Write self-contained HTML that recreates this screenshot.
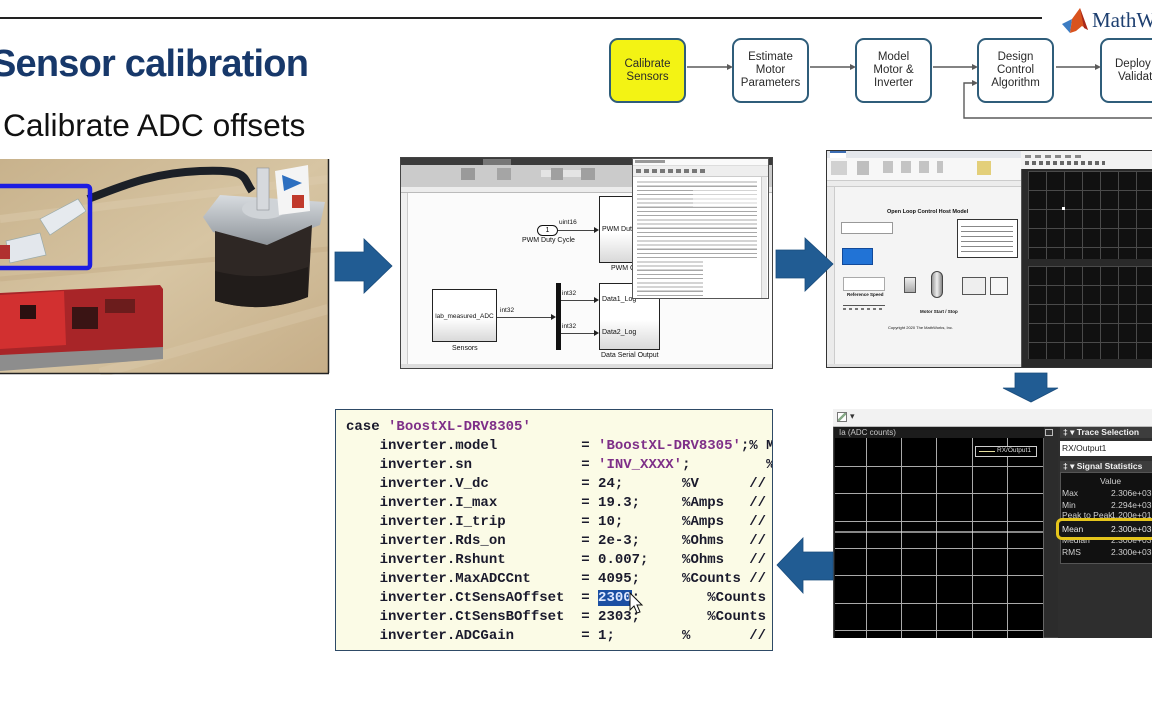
<!DOCTYPE html>
<html><head><meta charset="utf-8">
<style>
*{margin:0;padding:0;box-sizing:border-box}
body{width:1152px;height:720px;overflow:hidden;background:#fff;position:relative;font-family:"Liberation Sans",Arial,sans-serif}
.a{position:absolute}
.box{position:absolute;top:38px;width:77px;height:65px;border:2px solid #2f5d7a;border-radius:9px;background:#fff;display:flex;align-items:center;justify-content:center;text-align:center;font-size:11.5px;line-height:13px;color:#2a2a2a}
.t{position:absolute;white-space:nowrap;color:#111}
.s8{font-size:7px}
.blk{position:absolute;border:1px solid #222;background:linear-gradient(#fff 55%,#d9d9d9)}
.ln{position:absolute;height:1px;background:#444}
.hd{position:absolute;width:0;height:0;border-top:3px solid transparent;border-bottom:3px solid transparent;border-left:5px solid #222}
.sr{position:absolute;left:1062px;font-size:8.5px;color:#cfcfcf;white-space:nowrap}
.sv{position:absolute;left:1111px;font-size:8.5px;color:#cfcfcf;white-space:nowrap}
</style></head><body>

<!-- header -->
<div class="a" style="left:0;top:17px;width:1042px;height:1.5px;background:#222"></div>
<div class="t" style="left:-9px;top:45px;font-size:38px;line-height:38px;font-weight:bold;color:#17386a;letter-spacing:-0.8px">Sensor calibration</div>
<div class="t" style="left:3px;top:109px;font-size:31.7px;line-height:32px;color:#111">Calibrate ADC offsets</div>

<svg class="a" style="left:1058px;top:4px" width="34" height="34" viewBox="0 0 34 34">
<polygon points="4,20 14,15 12,29" fill="#3c7cc2"/>
<polygon points="12,29 14,15 22,4 30,26 24,22 18,27" fill="#d9531e"/>
<polygon points="22,4 30,26 26,24" fill="#a8281a"/>
</svg>
<div class="t" style="left:1092px;top:8px;font-family:'Liberation Serif',serif;font-size:21px;line-height:24px;color:#1d3f70">MathWorks</div>

<!-- flow boxes -->
<div class="box" style="left:609px;background:#f3f314">Calibrate<br>Sensors</div>
<div class="box" style="left:732px">Estimate<br>Motor<br>Parameters</div>
<div class="box" style="left:855px">Model<br>Motor &amp;<br>Inverter</div>
<div class="box" style="left:977px">Design<br>Control<br>Algorithm</div>
<div class="box" style="left:1100px;width:80px;justify-content:flex-start;padding-left:13px;text-align:center">Deploy &amp;<br>Validate</div>

<!-- photo -->
<svg class="a" style="left:0;top:159px" width="330" height="216" viewBox="0 0 330 216">
<defs>
<linearGradient id="wood" x1="0" y1="0" x2="1" y2="1">
<stop offset="0" stop-color="#c8b28c"/><stop offset="0.5" stop-color="#d7c5a3"/><stop offset="1" stop-color="#c6ae88"/>
</linearGradient>
<linearGradient id="fl" x1="0" y1="0" x2="0" y2="1">
<stop offset="0" stop-color="#d8dce0"/><stop offset="1" stop-color="#8f959b"/>
</linearGradient>
</defs>
<rect x="0" y="0" width="328" height="214" fill="url(#wood)"/>
<path d="M0 60 L328 20" stroke="#dccbad" stroke-width="8" opacity=".5"/>
<path d="M0 120 L328 90" stroke="#bfa57e" stroke-width="5" opacity=".35"/>
<path d="M100 214 L328 150" stroke="#dccbad" stroke-width="10" opacity=".4"/>
<path d="M88 40 C120 28,150 14,200 12 S242 18,252 32" stroke="#1c2027" stroke-width="8" fill="none"/>
<rect x="-4" y="27" width="94" height="82" rx="3" fill="none" stroke="#1c1ce2" stroke-width="4.5"/>
<polygon points="40,60 78,40 86,52 50,76" fill="#e6eaee" stroke="#9aa" stroke-width=".7"/>
<polygon points="6,82 40,74 46,96 10,104" fill="#e3e7ec" stroke="#9aa" stroke-width=".7"/>
<rect x="0" y="86" width="10" height="14" fill="#b03030"/>
<polygon points="203,58 220,36 325,43 320,66 267,86 213,73" fill="url(#fl)"/>
<path d="M215 72 L267 86 L312 66 L308 138 Q262 156 215 142 Z" fill="#2e2724"/>
<path d="M215 112 Q262 124 308 108 L308 138 Q262 156 215 142 Z" fill="#211c1a"/>
<ellipse cx="264" cy="50" rx="22" ry="10" fill="#cfd3d7"/>
<rect x="257" y="9" width="12" height="42" fill="#d6d9dd" stroke="#8a8f94" stroke-width=".6"/>
<polygon points="275,12 308,6 310,52 279,56" fill="#f4f4f4"/>
<polygon points="282,16 302,24 284,32" fill="#2d6fc0"/>
<rect x="292" y="36" width="12" height="13" fill="#c0392b"/>
<polygon points="0,134 160,126 163,130 163,196 0,206" fill="#a82528"/>
<polygon points="0,136 64,132 66,186 0,190" fill="#d23030"/>
<polygon points="0,196 163,188 163,200 0,212" fill="#8d8d8d"/>
<rect x="72" y="148" width="26" height="22" fill="#3a1414"/>
<rect x="105" y="140" width="30" height="14" fill="#6b1c1c"/>
<rect x="20" y="146" width="16" height="14" fill="#2a1010"/>
<line x1="328.5" y1="0" x2="328.5" y2="214" stroke="#222" stroke-width="1.5"/>
<line x1="0" y1="214.5" x2="329" y2="214.5" stroke="#222" stroke-width="1.5"/>
</svg>

<!-- simulink screenshot -->
<div class="a" style="left:400px;top:157px;width:373px;height:212px;border:1px solid #444;background:#fbfbfb;overflow:hidden">
 <div class="a" style="left:0;top:0;width:100%;height:7px;background:#3b3b3b"></div>
 <div class="a" style="left:82px;top:1px;width:28px;height:6px;background:#777"></div>
 <div class="a" style="left:0;top:7px;width:100%;height:22px;background:#cbcbcb"></div>
 <div class="a" style="left:60px;top:10px;width:14px;height:12px;background:#9a9a9a"></div>
 <div class="a" style="left:96px;top:10px;width:14px;height:12px;background:#a5a5a5"></div>
 <div class="a" style="left:140px;top:12px;width:40px;height:7px;background:#e4e4e4"></div>
 <div class="a" style="left:150px;top:10px;width:12px;height:12px;background:#a0a0a0"></div>
 <div class="a" style="left:180px;top:10px;width:14px;height:12px;background:#a0a0a0"></div>
 <div class="a" style="left:0;top:29px;width:100%;height:6px;background:#ececec;border-bottom:1px solid #bbb"></div>
 <div class="a" style="left:0;top:35px;width:7px;height:172px;background:#f0f0f0;border-right:1px solid #ccc"></div>
 <div class="a" style="left:0;bottom:0;width:100%;height:4px;background:#ddd"></div>
</div>
<div class="a" style="left:537px;top:225px;width:21px;height:11px;border:1px solid #111;border-radius:6px;background:#fff;font-size:7px;line-height:9px;text-align:center">1</div>
<div class="t" style="left:559px;top:219px;font-size:6.5px">uint16</div>
<div class="t s8" style="left:522px;top:237px">PWM Duty Cycle</div>
<div class="ln" style="left:558px;top:230px;width:38px"></div><div class="hd" style="left:594px;top:227px"></div>
<div class="blk" style="left:599px;top:196px;width:44px;height:67px"></div>
<div class="t s8" style="left:602px;top:226px">PWM Duty</div>
<div class="t s8" style="left:611px;top:265px">PWM Control</div>
<div class="blk" style="left:432px;top:289px;width:65px;height:53px"></div>
<div class="t" style="left:433px;top:313px;width:63px;text-align:center;font-size:6.5px">lab_measured_ADC</div>
<div class="t s8" style="left:452px;top:345px">Sensors</div>
<div class="t" style="left:500px;top:307px;font-size:6.5px">int32</div>
<div class="ln" style="left:497px;top:317px;width:56px"></div><div class="hd" style="left:551px;top:314px"></div>
<div class="a" style="left:556px;top:283px;width:5px;height:67px;background:#111"></div>
<div class="t" style="left:562px;top:290px;font-size:6.5px">int32</div>
<div class="t" style="left:562px;top:323px;font-size:6.5px">int32</div>
<div class="ln" style="left:561px;top:300px;width:35px"></div><div class="hd" style="left:594px;top:297px"></div>
<div class="ln" style="left:561px;top:333px;width:35px"></div><div class="hd" style="left:594px;top:330px"></div>
<div class="blk" style="left:599px;top:283px;width:61px;height:67px"></div>
<div class="t s8" style="left:602px;top:296px">Data1_Log</div>
<div class="t s8" style="left:602px;top:329px">Data2_Log</div>
<div class="t s8" style="left:601px;top:352px">Data Serial Output</div>
<!-- diagnostic viewer -->
<div class="a" style="left:632px;top:158px;width:137px;height:141px;border:1px solid #555;background:#fff;overflow:hidden">
 <div class="a" style="left:0;top:0;width:100%;height:7px;background:#fafafa;border-bottom:1px solid #ddd"></div>
 <div class="a" style="left:2px;top:1px;width:30px;height:3px;background:#999"></div>
 <div class="a" style="left:0;top:7px;width:100%;height:11px;background:#eee;border-bottom:1px solid #ccc"></div>
 <div class="a" style="left:3px;top:10px;width:70px;height:4px;background:repeating-linear-gradient(90deg,#777 0 5px,transparent 5px 8px)"></div>
 <div class="a" style="left:4px;top:21px;width:120px;height:116px;background:repeating-linear-gradient(#fff 0 1.5px,#a8a8a8 1.5px 2.6px,#fff 2.6px 4.2px)"></div>
 <div class="a" style="left:60px;top:30px;width:64px;height:18px;background:#fff;opacity:.5"></div>
 <div class="a" style="left:70px;top:100px;width:54px;height:37px;background:#fff"></div>
 <div class="a" style="right:1px;top:18px;width:6px;height:121px;background:#ececec;border-left:1px solid #ccc"></div>
</div>

<!-- host model screenshot -->
<div class="a" style="left:826px;top:150px;width:327px;height:218px;border:1px solid #333;background:#f4f4f4;overflow:hidden">
 <div class="a" style="left:0;top:0;width:194px;height:7px;background:#e3e6eb"></div>
 <div class="a" style="left:3px;top:0;width:16px;height:7px;background:#fff;border-top:2px solid #3d6eb4"></div>
 <div class="a" style="left:0;top:7px;width:194px;height:23px;background:#f7f7f7;border-bottom:1px solid #ccc"></div>
 <div class="a" style="left:4px;top:10px;width:16px;height:14px;background:#b8b8b8;opacity:.6"></div>
 <div class="a" style="left:30px;top:10px;width:12px;height:14px;background:#999;opacity:.6"></div>
 <div class="a" style="left:56px;top:10px;width:60px;height:12px;background:repeating-linear-gradient(90deg,#c4c4c4 0 10px,transparent 10px 18px)"></div>
 <div class="a" style="left:150px;top:10px;width:14px;height:14px;background:#e3cf7a"></div>
 <div class="a" style="left:0;top:30px;width:194px;height:6px;background:#ececec;border-bottom:1px solid #ccc"></div>
 <div class="a" style="left:0;top:36px;width:8px;height:177px;background:#ebebeb;border-right:1px solid #ccc"></div>
 <div class="a" style="left:0;top:213px;width:194px;height:5px;background:#e0e0e0"></div>
 <!-- scope right -->
 <div class="a" style="left:194px;top:0;width:133px;height:218px;background:#2a2a2a;border-left:1px solid #555"></div>
 <div class="a" style="left:194px;top:0;width:133px;height:18px;background:#f2f2f2"></div>
 <div class="a" style="left:198px;top:4px;width:60px;height:3px;background:repeating-linear-gradient(90deg,#888 0 6px,transparent 6px 10px)"></div>
 <div class="a" style="left:198px;top:10px;width:80px;height:4px;background:repeating-linear-gradient(90deg,#666 0 4px,transparent 4px 7px)"></div>
 <div class="a" style="left:201px;top:20px;width:126px;height:88px;background-color:#111;background-image:linear-gradient(90deg,#4a4a4a 1px,transparent 1px),linear-gradient(#4a4a4a 1px,transparent 1px);background-size:18px 19px"></div>
 <div class="a" style="left:201px;top:115px;width:126px;height:93px;background-color:#111;background-image:linear-gradient(90deg,#4a4a4a 1px,transparent 1px),linear-gradient(#4a4a4a 1px,transparent 1px);background-size:18px 19px"></div>
 <div class="a" style="left:235px;top:56px;width:3px;height:3px;background:#fff"></div>
</div>
<div class="t" style="left:887px;top:209px;font-size:5.5px;font-weight:bold">Open Loop Control Host Model</div>
<div class="a" style="left:841px;top:222px;width:52px;height:12px;border:1px solid #999;background:#fff"></div>
<div class="a" style="left:842px;top:248px;width:31px;height:17px;background:#2173d6;border:1px solid #124a9a"></div>
<div class="a" style="left:843px;top:277px;width:42px;height:14px;background:#fff;border:1px solid #aaa"></div>
<div class="t" style="left:847px;top:292px;font-size:4.5px;font-weight:bold">Reference Speed</div>
<div class="a" style="left:843px;top:305px;width:42px;height:1px;background:#555"></div>
<div class="a" style="left:843px;top:308px;width:42px;height:2px;background:repeating-linear-gradient(90deg,#777 0 3px,transparent 3px 6px)"></div>
<div class="a" style="left:904px;top:277px;width:12px;height:16px;border:1px solid #555;background:linear-gradient(#eee,#aaa)"></div>
<div class="a" style="left:931px;top:271px;width:12px;height:27px;border:1px solid #444;border-radius:6px;background:linear-gradient(90deg,#999,#eee,#888)"></div>
<div class="t" style="left:920px;top:309px;font-size:4.5px;font-weight:bold">Motor Start / Stop</div>
<div class="a" style="left:957px;top:219px;width:61px;height:39px;border:1.5px solid #333;background:#fff"></div>
<div class="a" style="left:961px;top:224px;width:52px;height:30px;background:repeating-linear-gradient(#fff 0 2px,#888 2px 3px,#fff 3px 5px)"></div>
<div class="a" style="left:962px;top:277px;width:24px;height:18px;border:1px solid #555;background:#eee"></div>
<div class="a" style="left:990px;top:277px;width:18px;height:18px;border:1px solid #555;background:#f6f6f6"></div>
<div class="t" style="left:888px;top:325px;font-size:4px">Copyright 2020 The MathWorks, Inc.</div>

<!-- code block -->
<div class="a" style="left:335px;top:409px;width:438px;height:242px;background:#fbfbe6;border:1px solid #2e4a66;overflow:hidden">
<pre style="position:absolute;left:10px;top:8px;font:bold 14px/19px 'Liberation Mono',monospace;color:#1a1a2c;white-space:pre">case <span style="color:#7e2f88">'BoostXL-DRV8305'</span>
    inverter.model          = <span style="color:#7e2f88">'BoostXL-DRV8305'</span>;% M
    inverter.sn             = <span style="color:#7e2f88">'INV_XXXX'</span>;         %
    inverter.V_dc           = 24;       %V      //
    inverter.I_max          = 19.3;     %Amps   //
    inverter.I_trip         = 10;       %Amps   //
    inverter.Rds_on         = 2e-3;     %Ohms   //
    inverter.Rshunt         = 0.007;    %Ohms   //
    inverter.MaxADCCnt      = 4095;     %Counts //
    inverter.CtSensAOffset  = <span style="background:#1b4fa3;color:#dfe8ff">2300</span>;        %Counts
    inverter.CtSensBOffset  = 2303;        %Counts
    inverter.ADCGain        = 1;        %       //</pre>
</div>

<!-- scope bottom -->
<div class="a" style="left:833px;top:409px;width:320px;height:229px;background:#2c2c2c;border:1px solid #444"></div>
<div class="a" style="left:833px;top:409px;width:320px;height:18px;background:#f2f2f2;border-bottom:1px solid #bbb"></div>
<div class="a" style="left:837px;top:412px;width:10px;height:10px;border:1px solid #777;background:linear-gradient(135deg,#fff 40%,#8a8 40% 60%,#fff 60%)"></div>
<div class="t" style="left:850px;top:411px;font-size:9px;color:#333">▾</div>
<div class="a" style="left:834px;top:427px;width:210px;height:211px;background:#1c1c1c"></div>
<div class="t" style="left:839px;top:428px;font-size:8px;color:#c8c8c8">Ia (ADC counts)</div>
<svg class="a" style="left:835px;top:438px" width="209" height="200" viewBox="0 0 209 200">
<rect x="0" y="0" width="209" height="200" fill="#000"/>
<g stroke="#a9a9a9" stroke-width="1">
<line x1="31.5" y1="0" x2="31.5" y2="200"/><line x1="66.5" y1="0" x2="66.5" y2="200"/><line x1="101.5" y1="0" x2="101.5" y2="200"/><line x1="137.5" y1="0" x2="137.5" y2="200"/><line x1="172.5" y1="0" x2="172.5" y2="200"/>
<line x1="0" y1="28.5" x2="209" y2="28.5"/><line x1="0" y1="55.5" x2="209" y2="55.5"/><line x1="0" y1="83.5" x2="209" y2="83.5"/><line x1="0" y1="110.5" x2="209" y2="110.5"/><line x1="0" y1="137.5" x2="209" y2="137.5"/><line x1="0" y1="165.5" x2="209" y2="165.5"/><line x1="0" y1="192.5" x2="209" y2="192.5"/>
</g>
<line x1="0" y1="94" x2="209" y2="94" stroke="#d8d8d8" stroke-width="1.3"/>
<line x1="208.5" y1="0" x2="208.5" y2="200" stroke="#666"/>
<rect x="140.5" y="8.5" width="61" height="10" fill="#000" stroke="#ccc"/>
<line x1="144" y1="13.5" x2="160" y2="13.5" stroke="#e8e0a0"/>
</svg>
<div class="t" style="left:997px;top:447px;font-size:6.5px;color:#ddd">RX/Output1</div>
<div class="a" style="left:1045px;top:429px;width:8px;height:7px;border:1px solid #bbb;background:#333"></div>
<div class="a" style="left:1058px;top:427px;width:95px;height:211px;background:#2e2e2e"></div>
<div class="a" style="left:1060px;top:427px;width:93px;height:11px;background:#3d3d3d"></div>
<div class="t" style="left:1063px;top:427px;font-size:8.5px;line-height:11px;font-weight:bold;color:#f2f2f2">‡ ▾ Trace Selection</div>
<div class="a" style="left:1060px;top:441px;width:93px;height:15px;background:#fff"></div>
<div class="t" style="left:1062px;top:443px;font-size:8.5px;color:#222">RX/Output1</div>
<div class="a" style="left:1060px;top:461px;width:93px;height:11px;background:#3d3d3d"></div>
<div class="t" style="left:1063px;top:461px;font-size:8.5px;line-height:11px;font-weight:bold;color:#f2f2f2">‡ ▾ Signal Statistics</div>
<div class="a" style="left:1060px;top:472px;width:93px;height:92px;background:#111;border:1px solid #555"></div>
<div class="sv" style="left:1100px;top:476px">Value</div>
<div class="sr" style="top:488px">Max</div><div class="sv" style="top:488px">2.306e+03</div>
<div class="sr" style="top:500px">Min</div><div class="sv" style="top:500px">2.294e+03</div>
<div class="a" style="left:1061px;top:512px;width:92px;height:6px;overflow:hidden"><div class="sr" style="left:1px;top:-2px">Peak to Peak</div><div class="sv" style="left:50px;top:-2px">1.200e+01</div></div>
<div class="sr" style="top:535px">Median</div><div class="sv" style="top:535px">2.300e+03</div>
<div class="a" style="left:1056px;top:518px;width:110px;height:22px;border:3px solid #e5c51c;border-radius:6px;background:#161616"></div>
<div class="sr" style="top:524px;color:#e8e8e8">Mean</div><div class="sv" style="top:524px;color:#e8e8e8">2.300e+03</div>
<div class="sr" style="top:547px">RMS</div><div class="sv" style="top:547px">2.300e+03</div>

<!-- overlay: arrows, connectors, cursor -->
<svg class="a" style="left:0;top:0" width="1152" height="720" viewBox="0 0 1152 720">
<g stroke="#5a5a5a" stroke-width="1.4" fill="none">
<line x1="687" y1="67" x2="729" y2="67"/>
<line x1="810" y1="67" x2="852" y2="67"/>
<line x1="933" y1="67" x2="974" y2="67"/>
<line x1="1056" y1="67" x2="1097" y2="67"/>
<polyline points="1152,118 964,118 964,83 974,83"/>
</g>
<g fill="#5a5a5a">
<polygon points="727,64 733,67 727,70"/>
<polygon points="850,64 856,67 850,70"/>
<polygon points="972,64 978,67 972,70"/>
<polygon points="1095,64 1101,67 1095,70"/>
<polygon points="972,80 978,83 972,86"/>
</g>
<g fill="#215c93" stroke="#1a4c7c" stroke-width="0.8">
<polygon points="335,252 364,252 364,239 392,266 364,293 364,281 335,281"/>
<polygon points="776,250 805,250 805,238 833,264 805,291 805,278 776,278"/>
<polygon points="1015,373 1047,373 1047,388 1058,388 1031,402 1003,388 1015,388"/>
<polygon points="833,552 803,552 803,538 777,565 803,593 803,580 833,580"/>
</g>
<polygon points="630,593 630,610 634,606 637,613 640,612 637,605 642,605" fill="#fff" stroke="#111" stroke-width="1"/>
</svg>
</body></html>
